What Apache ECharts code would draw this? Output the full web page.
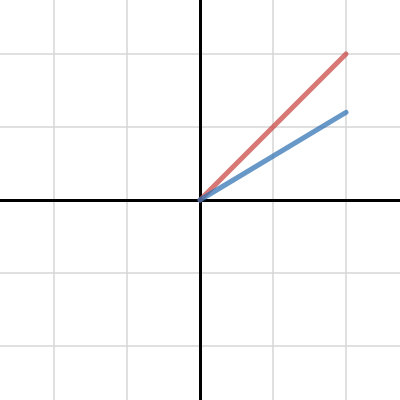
<!DOCTYPE html>
<html><head><meta charset="utf-8">
<script src="https://cdn.jsdelivr.net/npm/echarts@6/dist/echarts.min.js"></script>
<style>html,body{margin:0;padding:0;background:#fff;overflow:hidden}
#wrap{width:400px;height:400px;overflow:hidden;position:relative}
#c{width:438px;height:438px;position:absolute;left:-19px;top:-19px}</style>
</head><body><div id="wrap"><div id="c"></div></div>
<script>
var redLine = [[0, 0], [2, 2]];
var blueLine = [[0, 0], [2, 1.2]];
var axisMin = -3, axisMax = 3;
var chart = echarts.init(document.getElementById('c'), null, {renderer: 'canvas'});
var gridLine = {show: true, lineStyle: {color: '#d6d6d6', width: 1.5}};
var axisCommon = {
  type: 'value', min: axisMin, max: axisMax, interval: 1,
  axisLine: {show: true, onZero: true, lineStyle: {color: '#000', width: 3}},
  axisTick: {show: false}, axisLabel: {show: false}, splitLine: gridLine
};
chart.setOption({
  animation: false,
  backgroundColor: '#fff',
  grid: {left: 0, right: 0, top: 0, bottom: 0, containLabel: false},
  xAxis: Object.assign({}, axisCommon),
  yAxis: Object.assign({}, axisCommon),
  series: [
    {type: 'line', data: redLine, symbol: 'none', z: 3,
     lineStyle: {color: '#c74440', opacity: 0.72, width: 5, cap: 'round'}},
    {type: 'line', data: blueLine, symbol: 'none', z: 4,
     lineStyle: {color: '#2d70b3', opacity: 0.72, width: 5, cap: 'round'}}
  ]
});
</script></body></html>
